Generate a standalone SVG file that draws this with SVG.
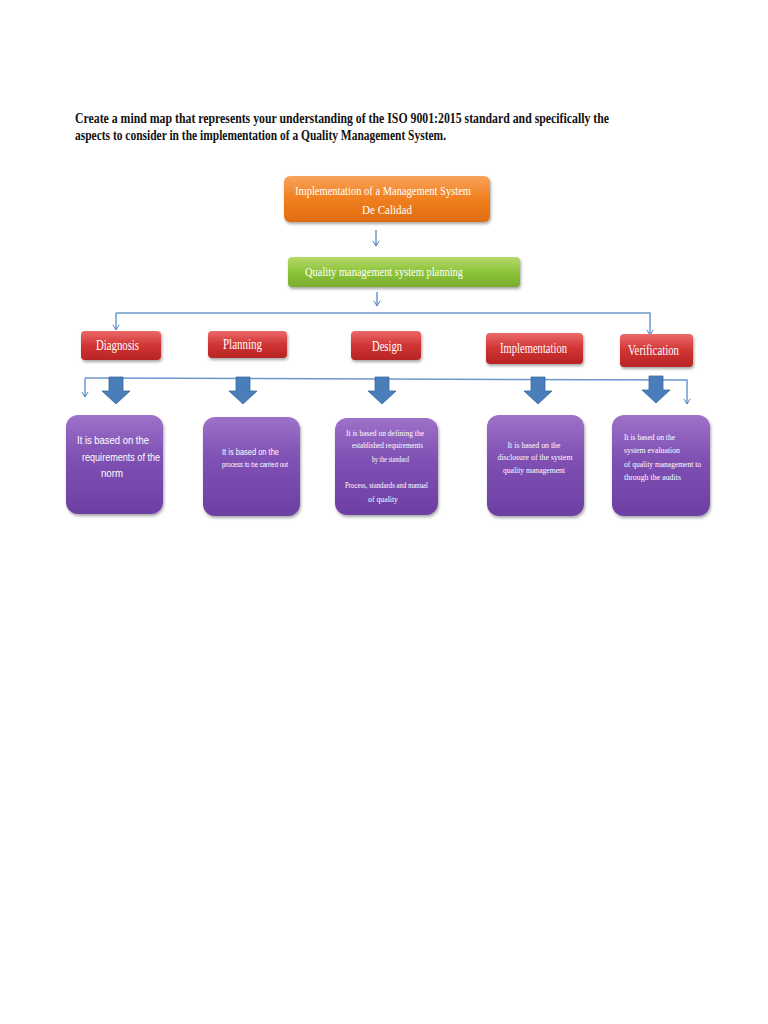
<svg xmlns="http://www.w3.org/2000/svg" width="768" height="1024" viewBox="0 0 768 1024">
<defs>
<linearGradient id="gOr" x1="0" y1="0" x2="0" y2="1"><stop offset="0" stop-color="#f9a35a"/><stop offset="0.5" stop-color="#f07f1e"/><stop offset="1" stop-color="#e06c10"/></linearGradient>
<linearGradient id="gGr" x1="0" y1="0" x2="0" y2="1"><stop offset="0" stop-color="#b5d96a"/><stop offset="0.5" stop-color="#8dc33a"/><stop offset="1" stop-color="#79ad2c"/></linearGradient>
<linearGradient id="gRd" x1="0" y1="0" x2="0" y2="1"><stop offset="0" stop-color="#ea6a6a"/><stop offset="0.5" stop-color="#d13434"/><stop offset="1" stop-color="#b82424"/></linearGradient>
<linearGradient id="gPu" x1="0" y1="0" x2="0" y2="1"><stop offset="0" stop-color="#9d72c9"/><stop offset="0.4" stop-color="#8152b5"/><stop offset="1" stop-color="#6c3fa3"/></linearGradient>
<marker id="ah" viewBox="0 0 10 10" refX="9.5" refY="5" markerWidth="8" markerHeight="8" orient="auto" markerUnits="userSpaceOnUse"><path d="M3,1 L9.5,5 L3,9" fill="none" stroke="#4f81bd" stroke-width="1.2"/></marker>
<filter id="sh" x="-10%" y="-10%" width="125%" height="130%"><feDropShadow dx="1" dy="2" stdDeviation="1.5" flood-color="#000" flood-opacity="0.35"/></filter>
</defs>
<style>
.t{font-family:"Liberation Serif",serif;font-weight:bold;font-size:15px;fill:#111}
.w{font-family:"Liberation Serif",serif;fill:#fff}
.s{font-family:"Liberation Sans",Arial,sans-serif;fill:#fff}
.ln{stroke:#6d98cc;stroke-width:1.5;fill:none}
.bk{fill:#4a7ebb;stroke:#3a6aa0;stroke-width:0.8}
</style>
<rect width="768" height="1024" fill="#fff"/>
<text class="t" x="75" y="123" textLength="534" lengthAdjust="spacingAndGlyphs">Create a mind map that represents your understanding of the ISO 9001:2015 standard and specifically the</text>
<text class="t" x="75" y="140" textLength="371" lengthAdjust="spacingAndGlyphs">aspects to consider in the implementation of a Quality Management System.</text>

<g id="connectors">
<line class="ln" x1="376" y1="230" x2="376" y2="246" marker-end="url(#ah)"/>
<line class="ln" x1="377" y1="292" x2="377" y2="306" marker-end="url(#ah)"/>
<polyline class="ln" points="116,313 650,313 650,335" marker-end="url(#ah)"/>
<line class="ln" x1="116" y1="313" x2="116" y2="330" marker-end="url(#ah)"/>
<polyline class="ln" points="85,378 688,380"/>
<line class="ln" x1="85" y1="378" x2="85" y2="397" marker-end="url(#ah)"/>
<line class="ln" x1="687" y1="381" x2="687" y2="404" marker-end="url(#ah)"/>
<path class="bk" d="M109,377 h14 v14 h7 l-14,13 l-14,-13 h7 z"/>
<path class="bk" d="M236,377 h14 v14 h7 l-14,13 l-14,-13 h7 z"/>
<path class="bk" d="M375,377 h14 v14 h7 l-14,13 l-14,-13 h7 z"/>
<path class="bk" d="M531,377 h14 v14 h7 l-14,13 l-14,-13 h7 z"/>
<path class="bk" d="M649,376 h14 v14 h7 l-14,13 l-14,-13 h7 z"/>
</g>

<g id="n-root">
<rect x="284" y="176" width="206" height="46" rx="6" fill="url(#gOr)" filter="url(#sh)"/>
<text class="w" x="295" y="195" font-size="13.5" textLength="176" lengthAdjust="spacingAndGlyphs">Implementation of a Management System</text>
<text class="w" x="362" y="214" font-size="13.5" textLength="50" lengthAdjust="spacingAndGlyphs">De Calidad</text>
</g>
<g id="n-planning-qms">
<rect x="288" y="257" width="232" height="30" rx="4" fill="url(#gGr)" filter="url(#sh)"/>
<text class="w" x="305" y="276" font-size="13.5" textLength="158" lengthAdjust="spacingAndGlyphs">Quality management system planning</text>
</g>

<g id="n-diagnosis">
<rect x="81" y="331" width="80" height="29" rx="4" fill="url(#gRd)" filter="url(#sh)"/>
<text class="w" x="96" y="350" font-size="14" textLength="43" lengthAdjust="spacingAndGlyphs">Diagnosis</text>
</g>
<g id="n-planning">
<rect x="208" y="331" width="79" height="27" rx="4" fill="url(#gRd)" filter="url(#sh)"/>
<text class="w" x="223" y="349" font-size="14" textLength="39" lengthAdjust="spacingAndGlyphs">Planning</text>
</g>
<g id="n-design">
<rect x="351" y="331" width="70" height="29" rx="4" fill="url(#gRd)" filter="url(#sh)"/>
<text class="w" x="372" y="351" font-size="14" textLength="30" lengthAdjust="spacingAndGlyphs">Design</text>
</g>
<g id="n-implementation">
<rect x="486" y="333" width="97" height="31" rx="4" fill="url(#gRd)" filter="url(#sh)"/>
<text class="w" x="500" y="353" font-size="14" textLength="67" lengthAdjust="spacingAndGlyphs">Implementation</text>
</g>
<g id="n-verification">
<rect x="620" y="334" width="73" height="33" rx="4" fill="url(#gRd)" filter="url(#sh)"/>
<text class="w" x="628" y="355" font-size="14" textLength="51" lengthAdjust="spacingAndGlyphs">Verification</text>
</g>

<g id="n-d1">
<rect x="66" y="415" width="97" height="99" rx="12" fill="url(#gPu)" filter="url(#sh)"/>
<text class="s" x="77" y="444" font-size="11" textLength="72" lengthAdjust="spacingAndGlyphs">It is based on the</text>
<text class="s" x="82" y="461" font-size="11" textLength="78" lengthAdjust="spacingAndGlyphs">requirements of the</text>
<text class="s" x="101" y="477" font-size="11" textLength="22" lengthAdjust="spacingAndGlyphs">norm</text>
</g>
<g id="n-d2">
<rect x="203" y="417" width="97" height="99" rx="12" fill="url(#gPu)" filter="url(#sh)"/>
<text class="s" x="222" y="455" font-size="9.5" textLength="57" lengthAdjust="spacingAndGlyphs">It is based on the</text>
<text class="s" x="222" y="467" font-size="6.5" textLength="66" lengthAdjust="spacingAndGlyphs">process to be carried out</text>
</g>
<g id="n-d3">
<rect x="335" y="418" width="103" height="97" rx="12" fill="url(#gPu)" filter="url(#sh)"/>
<text class="w" x="346" y="436" font-size="8.5" textLength="78" lengthAdjust="spacingAndGlyphs">It is based on defining the</text>
<text class="w" x="352" y="448" font-size="8.5" textLength="71" lengthAdjust="spacingAndGlyphs">established requirements</text>
<text class="w" x="372" y="462" font-size="8" textLength="37" lengthAdjust="spacingAndGlyphs">by the standard</text>
<text class="w" x="345" y="488" font-size="8" textLength="83" lengthAdjust="spacingAndGlyphs">Process, standards and manual</text>
<text class="w" x="368" y="502" font-size="8.5" textLength="30" lengthAdjust="spacingAndGlyphs">of quality</text>
</g>
<g id="n-d4">
<rect x="487" y="415" width="97" height="101" rx="12" fill="url(#gPu)" filter="url(#sh)"/>
<text class="w" x="534" y="448" font-size="8.5" text-anchor="middle" textLength="53" lengthAdjust="spacingAndGlyphs">It is based on the</text>
<text class="w" x="535" y="460" font-size="8.5" text-anchor="middle" textLength="75" lengthAdjust="spacingAndGlyphs">disclosure of the system</text>
<text class="w" x="534" y="473" font-size="8.5" text-anchor="middle" textLength="62" lengthAdjust="spacingAndGlyphs">quality management</text>
</g>
<g id="n-d5">
<rect x="612" y="415" width="98" height="101" rx="12" fill="url(#gPu)" filter="url(#sh)"/>
<text class="w" x="624" y="440" font-size="8.5" textLength="51" lengthAdjust="spacingAndGlyphs">It is based on the</text>
<text class="w" x="624" y="453" font-size="8.5" textLength="56" lengthAdjust="spacingAndGlyphs">system evaluation</text>
<text class="w" x="624" y="467" font-size="8.5" textLength="77" lengthAdjust="spacingAndGlyphs">of quality management to</text>
<text class="w" x="624" y="480" font-size="8.5" textLength="57" lengthAdjust="spacingAndGlyphs">through the audits</text>
</g>
</svg>
